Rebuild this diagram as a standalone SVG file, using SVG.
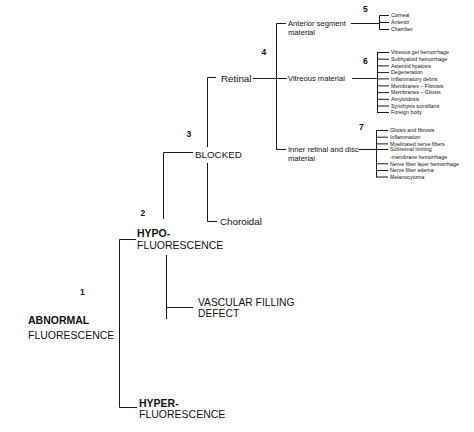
<svg xmlns="http://www.w3.org/2000/svg" width="474" height="432" viewBox="0 0 474 432">
<style>
text{font-family:"Liberation Sans",Arial,sans-serif;fill:#111}
.num{font-size:8.5px;font-weight:bold}
.big{font-size:10.5px}
.bold{font-weight:bold}
.mid{font-size:9.8px}
.vf{font-size:10.3px}
.m2{font-size:7.6px}
.sm{font-size:5.3px}
.c line,.c polyline{stroke:#1a1a1a;stroke-width:1;fill:none}
</style>
<rect width="474" height="432" fill="#fff"/>
<g class="c" id="connectors">
<polyline points="136,239.5 119.5,239.5 119.5,407.5 137,407.5"/>
<polyline points="163.5,219 163.5,152.5 193,152.5"/>
<line x1="166.5" y1="255" x2="166.5" y2="319"/>
<line x1="166.5" y1="307.5" x2="193" y2="307.5"/>
<polyline points="216,77.5 207.5,77.5 207.5,147"/>
<polyline points="207.5,163 207.5,221.5 217,221.5"/>
<line x1="253" y1="78.5" x2="287" y2="78.5"/>
<polyline points="286,23.5 276.5,23.5 276.5,149.5 286,149.5"/>
<line x1="351" y1="23.5" x2="379" y2="23.5"/>
<polyline points="389,15.5 379.5,15.5 379.5,29.5 389,29.5"/>
<line x1="379.5" y1="22.5" x2="389" y2="22.5"/>
<line x1="352" y1="78.5" x2="377" y2="78.5"/>
<line x1="377.5" y1="52" x2="377.5" y2="113"/>
<line x1="377.5" y1="52.5" x2="389" y2="52.5"/>
<line x1="377.5" y1="59.2" x2="389" y2="59.2"/>
<line x1="377.5" y1="65.9" x2="389" y2="65.9"/>
<line x1="377.5" y1="72.6" x2="389" y2="72.6"/>
<line x1="377.5" y1="78.9" x2="389" y2="78.9"/>
<line x1="377.5" y1="85.9" x2="389" y2="85.9"/>
<line x1="377.5" y1="92.6" x2="389" y2="92.6"/>
<line x1="377.5" y1="99.3" x2="389" y2="99.3"/>
<line x1="377.5" y1="106" x2="389" y2="106"/>
<line x1="377.5" y1="112.5" x2="389" y2="112.5"/>
<line x1="358.5" y1="149.5" x2="376" y2="149.5"/>
<line x1="376.5" y1="130" x2="376.5" y2="177.5"/>
<line x1="376.5" y1="130.5" x2="388" y2="130.5"/>
<line x1="376.5" y1="137.2" x2="388" y2="137.2"/>
<line x1="376.5" y1="143.9" x2="388" y2="143.9"/>
<line x1="376.5" y1="149.5" x2="388" y2="149.5"/>
<line x1="376.5" y1="163.8" x2="388" y2="163.8"/>
<line x1="376.5" y1="170.5" x2="388" y2="170.5"/>
<line x1="376.5" y1="177" x2="388" y2="177"/>
</g>
<g id="abnormal">
<text class="num" x="80" y="295">1</text>
<text class="big bold" x="28" y="323.5">ABNORMAL</text>
<text class="big" x="28" y="339">FLUORESCENCE</text>
</g>
<g id="hypo">
<text class="num" x="140.5" y="216">2</text>
<text class="big bold" x="137" y="236.5">HYPO-</text>
<text class="big" x="137" y="248.5">FLUORESCENCE</text>
</g>
<g id="hyper">
<text class="big bold" x="139" y="406.5">HYPER-</text>
<text class="big" x="139" y="418">FLUORESCENCE</text>
</g>
<g id="vascular">
<text class="vf" x="198" y="305.5">VASCULAR FILLING</text>
<text class="vf" x="198" y="316.8">DEFECT</text>
</g>
<g id="blocked">
<text class="num" x="186.5" y="137">3</text>
<text class="mid" x="195" y="157.5">BLOCKED</text>
</g>
<g id="choroidal">
<text class="mid" x="220" y="224.5">Choroidal</text>
</g>
<g id="retinal">
<text class="num" x="261.5" y="55">4</text>
<text class="mid" x="221" y="81.5">Retinal</text>
</g>
<g id="anterior">
<text class="m2" x="288" y="26">Anterior segment</text>
<text class="m2" x="288" y="35">material</text>
</g>
<g id="vitreous">
<text class="m2" x="288" y="81.2">Vitreous material</text>
</g>
<g id="inner">
<text class="m2" x="288" y="152">Inner retinal and disc</text>
<text class="m2" x="288" y="160.7">material</text>
</g>
<g id="group5">
<text class="num" x="363" y="12">5</text>
<text class="sm" x="391" y="17.3">Corneal</text>
<text class="sm" x="391" y="24.3">Anterior</text>
<text class="sm" x="391" y="31.3">Chamber</text>
</g>
<g id="group6">
<text class="num" x="363" y="64">6</text>
<text class="sm" x="391" y="54.3">Vitreous gel hemorrhage</text>
<text class="sm" x="391" y="61">Subhyaloid hemorrhage</text>
<text class="sm" x="391" y="67.7">Asteroid hyalosis</text>
<text class="sm" x="391" y="74.4">Degeneration</text>
<text class="sm" x="391" y="80.8">Inflammatory debris</text>
<text class="sm" x="391" y="87.7">Membranes – Fibrosis</text>
<text class="sm" x="391" y="94.4">Membranes – Gliosis</text>
<text class="sm" x="391" y="101.1">Amyloidosis</text>
<text class="sm" x="391" y="107.8">Synchysis scintillans</text>
<text class="sm" x="391" y="114.4">Foreign body</text>
</g>
<g id="group7">
<text class="num" x="359" y="130">7</text>
<text class="sm" x="390" y="132.3">Gliosis and fibrosis</text>
<text class="sm" x="390" y="139">Inflammation</text>
<text class="sm" x="390" y="145.7">Myelinated nerve fibers</text>
<text class="sm" x="390" y="151.4">Subretinal limiting</text>
<text class="sm" x="390" y="158.5">-membrane hemorrhage</text>
<text class="sm" x="390" y="165.6">Nerve fiber layer hemorrhage</text>
<text class="sm" x="390" y="172.3">Nerve fiber edema</text>
<text class="sm" x="390" y="178.9">Melanocytoma</text>
</g>
</svg>
